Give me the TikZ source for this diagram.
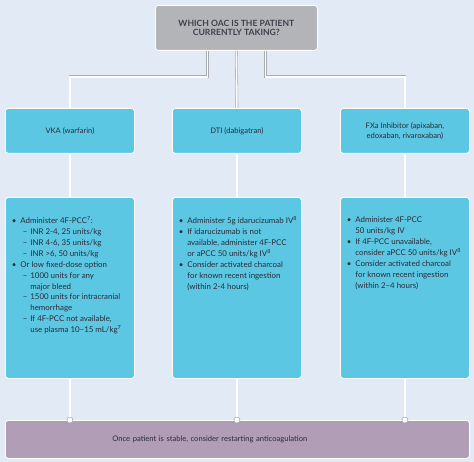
\documentclass[tikz,border=0pt]{standalone}
\usepackage{fontspec}
\setmainfont{Lato}
\usepackage{enumitem}
\usetikzlibrary{positioning}
\definecolor{fond}{HTML}{E2EBF5}
\definecolor{gris}{HTML}{B2B4B8}
\definecolor{bleu}{HTML}{5CC7E2}
\definecolor{mauve}{HTML}{B19DB5}
\definecolor{trait}{HTML}{A8ABB0}
\definecolor{encre}{HTML}{2A2B38}
\setlist[itemize,1]{label=\textbullet, leftmargin=11pt, labelsep=4pt, itemsep=0pt, topsep=0pt, parsep=0pt, partopsep=0pt}
\setlist[itemize,2]{label=--, leftmargin=10pt, labelsep=3pt, itemsep=0pt, topsep=0pt, parsep=0pt, partopsep=0pt}

\tikzset{
  boite/.style={rounded corners=3pt, draw=white, line width=0.8pt, anchor=north west, text=encre},
  choix/.style={boite, fill=bleu, minimum width=129pt, minimum height=45pt, align=center, font=\fontsize{7.6}{10}\selectfont},
  panneau/.style={boite, fill=bleu, minimum width=129pt, inner xsep=4pt, inner ysep=5.5pt, font=\fontsize{7.9}{10.9}\selectfont},
  lien/.style={draw=trait, line width=0.6pt, double=white, double distance=1.6pt},
  pastille/.style={circle, draw=trait, fill=white, line width=0.6pt, inner sep=0pt, minimum size=6pt}
}
\newcommand{\contenu}[1]{\parbox[t][170pt][t]{121pt}{\raggedright\vspace*{14pt}#1}}

\begin{document}
\begin{tikzpicture}[x=1pt, y=-1pt]
  \fill[fond] (0,0) rectangle (474,462);

  % question
  \node[boite, fill=gris, minimum width=162pt, minimum height=45pt, align=center,
        font=\fontsize{8.6}{9.6}\selectfont\bfseries, text=encre!90] (q) at (155,5)
    {WHICH OAC IS THE PATIENT\\CURRENTLY TAKING?};

  % anticoagulants
  \node[choix] (vka) at (5,108) {VKA (warfarin)};
  \node[choix] (dti) at (172,108) {DTI (dabigatran)};
  \node[choix] (fxa) at (340,108) {FXa Inhibitor (apixaban,\\edoxaban, rivaroxaban)};

  % reversal
  \node[panneau] (vkab) at (5,197) {\contenu{%
    \begin{itemize}
      \item Administer 4F-PCC\textsuperscript{7}:
      \begin{itemize}
        \item INR 2-4, 25 units/kg
        \item INR 4-6, 35 units/kg
        \item INR >6, 50 units/kg
      \end{itemize}
      \item Or low fixed-dose option
      \begin{itemize}
        \item 1000 units for any\\ major bleed
        \item 1500 units for intracranial\\ hemorrhage
        \item If 4F-PCC not available,\\ use plasma 10–15 mL/kg\textsuperscript{7}
      \end{itemize}
    \end{itemize}}};
  \node[panneau] (dtib) at (172,197) {\contenu{%
    \begin{itemize}
      \item \makebox[0pt][l]{Administer 5g idarucizumab IV\textsuperscript{8}}
      \item If idarucizumab is not\\ available, administer 4F-PCC\\ or aPCC 50 units/kg IV\textsuperscript{8}
      \item Consider activated charcoal\\ for known recent ingestion\\ (within 2-4 hours)
    \end{itemize}}};
  \node[panneau] (fxab) at (340,197) {\contenu{%
    \begin{itemize}
      \item Administer 4F-PCC\\ 50 units/kg IV
      \item If 4F-PCC unavailable,\\ \makebox[0pt][l]{consider aPCC 50 units/kg IV\textsuperscript{8}}
      \item Consider activated charcoal\\ for known recent ingestion\\ (within 2–4 hours)
    \end{itemize}}};

  % restart
  \node[boite, fill=mauve, minimum width=464pt, minimum height=38pt, inner xsep=0pt,
        text width=464pt, align=left, font=\fontsize{7.6}{9}\selectfont] (barre) at (5,420)
    {\hspace*{107pt}Once patient is stable, consider restarting anticoagulation};

  \node[pastille] (d1) at (vkab.south |- barre.north) {};
  \node[pastille] (d2) at (dtib.south |- barre.north) {};
  \node[pastille] (d3) at (fxab.south |- barre.north) {};

  % connectors
  \draw[lien] ([xshift=-29pt]q.south) -- ++(0,26) -| (vka.north);
  \draw[lien] (q.south) -- (dti.north);
  \draw[lien] ([xshift=29pt]q.south) -- ++(0,26) -| (fxa.north);
  \draw[lien] (vka) -- (vkab);
  \draw[lien] (dti) -- (dtib);
  \draw[lien] (fxa) -- (fxab);
  \draw[lien] (vkab) -- (d1);
  \draw[lien] (dtib) -- (d2);
  \draw[lien] (fxab) -- (d3);
\end{tikzpicture}
\end{document}
